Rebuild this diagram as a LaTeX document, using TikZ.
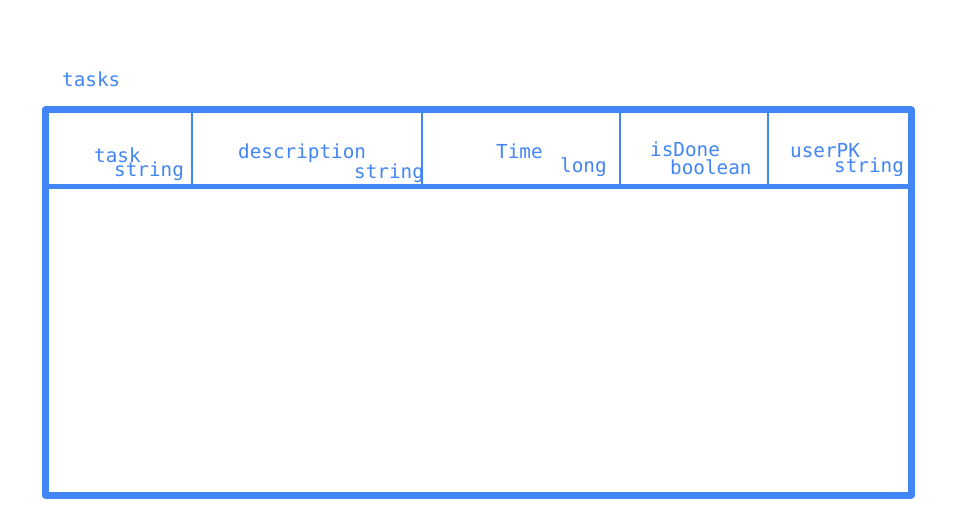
\documentclass[tikz,border=0pt]{standalone}
\usepackage{fontspec}
\setmonofont{DejaVu Sans Mono}
\definecolor{gblue}{HTML}{4285F4}
\begin{document}
\begin{tikzpicture}[x=1pt,y=-1pt,
  lbl/.style={anchor=west,inner sep=0pt,text=gblue,font=\ttfamily\fontsize{19.3}{20}\selectfont},
  border/.style={draw=gblue,line width=7pt,line join=round},
  divider/.style={draw=gblue,line width=2.5pt}]
\useasboundingbox (0,0) rectangle (954,505);
\node[lbl] (title) at (62,79) {tasks};
\draw[border] (45,110) coordinate (tl) rectangle (911,495) coordinate (br);
\draw[draw=gblue,line width=5pt] (45,187) coordinate (hl) -- (911,187) coordinate (hr);
\foreach \x/\n in {192/a,422/b,620/c,768/d}{
  \draw[divider] (\x,113) coordinate (t\n) -- (\x,187) coordinate (b\n);
}
\node[lbl] (c1) at (94,155) {task};
\node[lbl] (t1) at (114,171) {string};
\node[lbl] (c2) at (238,153) {description};
\node[lbl] (t2) at (354,173) {string};
\node[lbl] (c3) at (496,151) {Time};
\node[lbl] (t3) at (560,167) {long};
\node[lbl] (c4) at (650,149) {isDone};
\node[lbl] (t4) at (670,167) {boolean};
\node[lbl] (c5) at (790,151) {userPK};
\node[lbl] (t5) at (834,167) {string};
\end{tikzpicture}
\end{document}
